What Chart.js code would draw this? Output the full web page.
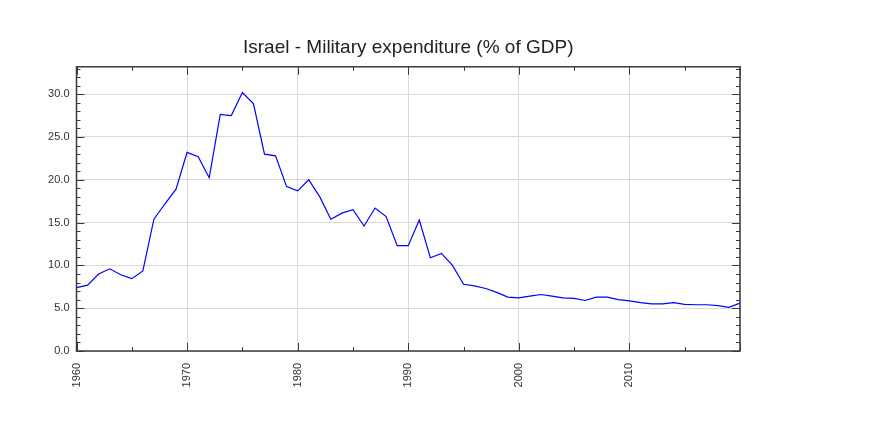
<!DOCTYPE html>
<html>
<head>
<meta charset="utf-8">
<script src="https://cdn.jsdelivr.net/npm/chart.js@4"></script>
<style>
  html, body { margin: 0; padding: 0; background: #fff; }
  #wrap { width: 877px; height: 421px; }
</style>
</head>
<body>
<div id="wrap"><canvas id="chart" width="877" height="421"></canvas></div>
<script>
// Israel - military expenditure, % of GDP
const years = [
    1960, 1961, 1962, 1963, 1964, 1965, 1966, 1967, 1968, 1969,
    1970, 1971, 1972, 1973, 1974, 1975, 1976, 1977, 1978, 1979,
    1980, 1981, 1982, 1983, 1984, 1985, 1986, 1987, 1988, 1989,
    1990, 1991, 1992, 1993, 1994, 1995, 1996, 1997, 1998, 1999,
    2000, 2001, 2002, 2003, 2004, 2005, 2006, 2007, 2008, 2009,
    2010, 2011, 2012, 2013, 2014, 2015, 2016, 2017, 2018, 2019,
    2020
];
const spending = [
    7.4, 7.7, 9.0, 9.6, 8.9, 8.45, 9.35, 15.4, 17.2, 18.9,
    23.2, 22.7, 20.25, 27.65, 27.5, 30.2, 28.9, 23.0, 22.8, 19.2,
    18.7, 20.0, 18.0, 15.4, 16.1, 16.5, 14.6, 16.7, 15.7, 12.3,
    12.3, 15.3, 10.9, 11.4, 10.0, 7.8, 7.6, 7.3, 6.85, 6.3,
    6.2, 6.4, 6.6, 6.4, 6.2, 6.15, 5.9, 6.3, 6.3, 6.0,
    5.85, 5.65, 5.5, 5.5, 5.65, 5.45, 5.4, 5.4, 5.3, 5.1,
    5.6
];

const FONT = "Arial, 'Liberation Sans', sans-serif";

// frame + inward tick marks (major and minor) on all four sides
const frameTicks = {
    id: 'frameTicks',
    afterDraw(chart) {
        const ctx = chart.ctx;
        const a = chart.chartArea;
        const xs = chart.scales.x;
        const ys = chart.scales.y;
        ctx.save();
        ctx.strokeStyle = '#3a3a3a';
        ctx.lineWidth = 1;
        ctx.beginPath();
        for (let v = 1960; v <= 2020; v += 5) {
            const px = Math.round(xs.getPixelForValue(v)) + 0.5;
            const len = v % 10 === 0 ? 8 : 4;
            ctx.moveTo(px, a.bottom); ctx.lineTo(px, a.bottom - len);
            ctx.moveTo(px, a.top); ctx.lineTo(px, a.top + len);
        }
        for (let v = 0; v <= 33; v += 1) {
            const py = Math.round(ys.getPixelForValue(v)) + 0.5;
            const len = v % 5 === 0 ? 8 : 4;
            ctx.moveTo(a.left, py); ctx.lineTo(a.left + len, py);
            ctx.moveTo(a.right, py); ctx.lineTo(a.right - len, py);
        }
        ctx.stroke();
        ctx.lineWidth = 1.5;
        ctx.strokeRect(a.left, a.top, a.right - a.left, a.bottom - a.top);
        ctx.restore();
    }
};

new Chart(document.getElementById('chart'), {
    type: 'line',
    data: {
        datasets: [{
            label: 'Military expenditure (% of GDP)',
            data: years.map((yr, i) => ({ x: yr, y: spending[i] })),
            borderColor: '#0000ff',
            borderWidth: 1.2,
            pointRadius: 0,
            tension: 0,
            fill: false
        }]
    },
    options: {
        responsive: false,
        animation: false,
        layout: { padding: { left: 0, right: 137, top: 0, bottom: 0 } },
        plugins: {
            legend: { display: false },
            tooltip: { enabled: false },
            title: {
                display: true,
                fullSize: false,
                text: 'Israel - Military expenditure (% of GDP)',
                color: '#222',
                font: { family: FONT, size: 19, weight: 'normal' },
                padding: { top: 36.6, bottom: 7.4 }
            }
        },
        scales: {
            x: {
                type: 'linear',
                min: 1960,
                max: 2020,
                grid: { color: '#d9d9d9', drawTicks: false },
                border: { display: false },
                ticks: {
                    stepSize: 10,
                    minRotation: 90,
                    maxRotation: 90,
                    padding: 12,
                    color: '#333',
                    font: { family: FONT, size: 11 },
                    callback: function(value) {
                        return value === 2020 ? '' : String(value);
                    }
                },
                afterFit: function(scale) { scale.height = 70; }
            },
            y: {
                min: 0,
                max: 33.2,
                grid: { color: '#d9d9d9', drawTicks: false },
                border: { display: false },
                ticks: {
                    stepSize: 5,
                    includeBounds: false,
                    padding: 7,
                    color: '#333',
                    font: { family: FONT, size: 11 },
                    callback: function(value) {
                        return value.toFixed(1);
                    }
                },
                afterFit: function(scale) { scale.width = 76.5; }
            }
        }
    },
    plugins: [frameTicks]
});
</script>
</body>
</html>
